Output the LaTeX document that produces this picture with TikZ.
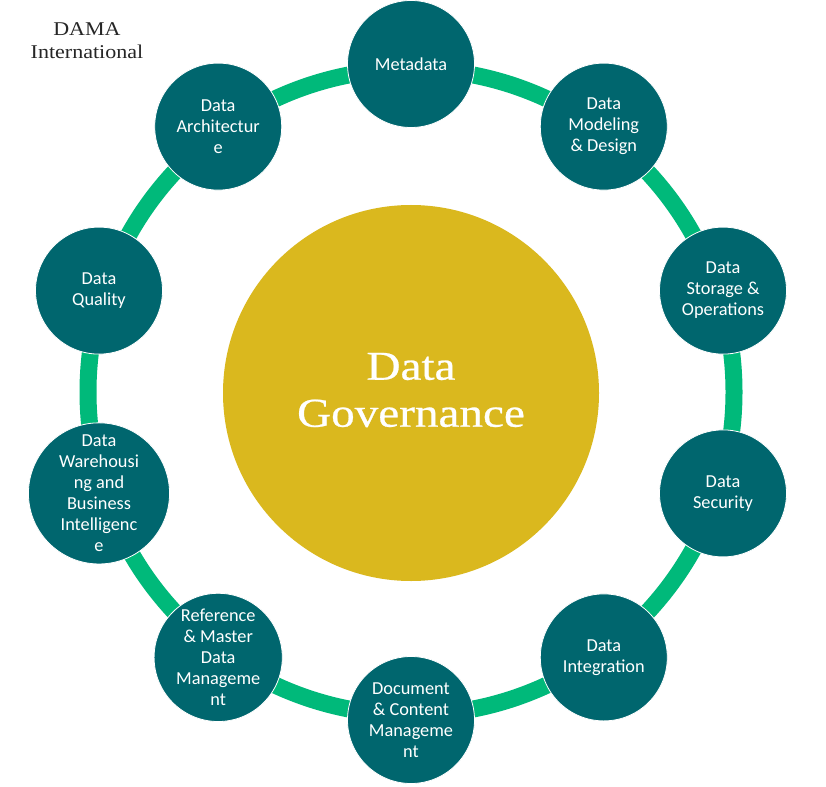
\documentclass[tikz,border=0pt]{standalone}
\usepackage{fontspec}
\setmainfont{Carlito}
\newfontfamily\serifx[FakeStretch=1.13]{Liberation Serif}
\newfontfamily\serift[FakeStretch=1.15,FakeBold=0.6]{Liberation Serif}
\definecolor{teal}{HTML}{00666E}
\definecolor{ringgreen}{HTML}{00B97A}
\definecolor{gold}{HTML}{DAB81E}
\begin{document}
\begin{tikzpicture}[x=1pt,y=-1pt,
  ring/.style={draw=ringgreen,line width=17pt},
  area/.style={circle,fill=teal,draw=white,line width=0.8pt,minimum size=127pt,inner sep=0pt,
    text=white,align=center,font=\fontsize{18.3}{21}\selectfont},
  core/.style={circle,fill=gold,minimum size=376pt,inner sep=0pt},
  titletext/.style={text=white,align=center,font=\serift\fontsize{41}{47}\selectfont},
  labeltext/.style={text=black!85,align=center,font=\serifx\fontsize{19.5}{23}\selectfont}]
\useasboundingbox (0,0) rectangle (826,786);
\fill[white] (0,0) rectangle (826,786);
\draw[ring] (411,392) circle[radius=323];
\node[core] (gov) at (411,393) {};
\node[titletext] (govtext) at (411,390) {Data\\Governance};
\node[area] (meta) at (411,64) {Metadata};
\node[area] (model) at (603.8,126.6) {Data\\Modeling\\\& Design};
\node[area] (store) at (723,290.6) {Data\\Storage \&\\Operations};
\node[area] (sec) at (723,493.4) {Data\\Security};
\node[area] (integ) at (603.8,657.4) {Data\\Integration};
\node[area] (doc) at (411,720) {Document\\\& Content\\Manageme\\nt};
\node[area] (ref) at (218.2,657.4) {Reference\\\& Master\\Data\\Manageme\\nt};
\node[area] (dw) at (99,493.4) {Data\\Warehousi\\ng and\\Business\\Intelligenc\\e};
\node[area] (qual) at (99,290.6) {Data\\Quality};
\node[area] (arch) at (218.2,126.6) {Data\\Architectur\\e};
\node[labeltext] (dama) at (87,41) {DAMA\\International};
\end{tikzpicture}
\end{document}
